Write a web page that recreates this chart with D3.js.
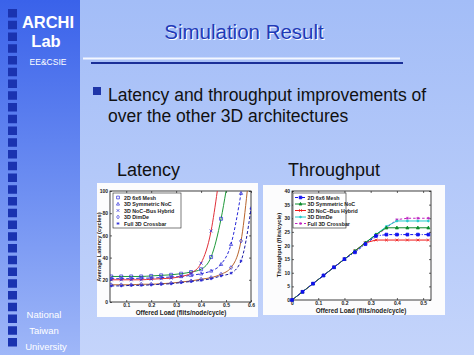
<!DOCTYPE html>
<html>
<head>
<meta charset="utf-8">
<script src="https://cdnjs.cloudflare.com/ajax/libs/d3/7.8.5/d3.min.js"></script>
<style>
  html, body { margin: 0; padding: 0; overflow: hidden; }
  svg { display: block; font-family: Arial, "Liberation Sans", sans-serif; }
</style>
</head>
<body>
<div id="slide"></div>
<script>
// Latency chart data (offered load vs average latency)
const latLoads = [0.04, 0.08, 0.12, 0.16, 0.20, 0.24, 0.28, 0.32, 0.36, 0.40, 0.44, 0.48, 0.52, 0.56, 0.60];
const latMesh   = [23, 23, 23, 23, 23.5, 24, 24.5, 25.5, 27, 29.5, 40.5, 75];
const latSymm   = [21, 21, 21, 21.5, 21.5, 22, 22.5, 23, 24, 25.5, 28, 34, 52, 98];
const latHybrid = [20, 20, 20, 20, 20.5, 21, 21.5, 23, 26, 35, 64];
const latDimde  = [15.5, 15.5, 15.5, 16, 16, 16.5, 17, 18, 19, 20.5, 22, 25, 31, 55];
const latXbar   = [14.5, 14.5, 15, 15, 15.5, 16, 16.5, 17.5, 18.5, 19.5, 21, 23.5, 26, 37, 84];
// where each curve leaves the top of the plot
const latEndLoad = [0.50, 0.57, 0.465, 0.585, 0.62];
const latEndValue = [100, 112, 100, 100, 120];

// Throughput chart data
const tpLoads = [0, 0.04, 0.08, 0.12, 0.16, 0.20, 0.24, 0.28, 0.32, 0.36, 0.40, 0.44, 0.48, 0.52];
const tpMesh   = [0, 3, 6, 9, 12, 15, 17.5, 20.5, 23.5, 24, 24, 24, 24, 24];
const tpSymm   = [0, 3, 6, 9, 12, 15, 18, 21, 24, 26.5, 26.5, 26.5, 26.5, 26.5];
const tpHybrid = [0, 3, 6, 9, 12, 15, 18, 21, 22, 22, 22, 22, 22, 22];
const tpDimde  = [0, 3, 6, 9, 12, 15, 18, 21, 24, 27, 29, 29, 29, 29];
const tpXbar   = [0, 3, 6, 9, 12, 15, 18, 21, 23.5, 26.5, 29.5, 30, 30, 30];

const seriesNames = ["2D 6x6 Mesh", "3D Symmetric NoC", "3D NoC\u2013Bus Hybrid", "3D DimDe", "Full 3D Crossbar"];
const latTicksX = [0.1, 0.2, 0.3, 0.4, 0.5, 0.6];
const latTicksY = [0, 20, 40, 60, 80, 100];
const tpTicksX = [0, 0.1, 0.2, 0.3, 0.4, 0.5];
const tpTicksY = [0, 5, 10, 15, 20, 25, 30, 35, 40];

const W = 474, H = 355;
const svg = d3.select("#slide").append("svg").attr("width", W).attr("height", H);
const defs = svg.append("defs");

const mainGrad = defs.append("linearGradient").attr("id", "mainBg").attr("x1", 0).attr("y1", 0).attr("x2", 0).attr("y2", 1);
mainGrad.append("stop").attr("offset", "0%").attr("stop-color", "#a3bdf7");
mainGrad.append("stop").attr("offset", "100%").attr("stop-color", "#c4d4fb");
const sideGrad = defs.append("linearGradient").attr("id", "sideBg").attr("x1", 0).attr("y1", 0).attr("x2", 0).attr("y2", 1);
sideGrad.append("stop").attr("offset", "0%").attr("stop-color", "#3a62ea");
sideGrad.append("stop").attr("offset", "55%").attr("stop-color", "#6f90f2");
sideGrad.append("stop").attr("offset", "100%").attr("stop-color", "#9fb7f8");

svg.append("rect").attr("width", W).attr("height", H).attr("fill", "url(#mainBg)");
svg.append("rect").attr("width", 80).attr("height", H).attr("fill", "url(#sideBg)");

// sidebar squares
svg.selectAll(".sq").data(d3.range(29)).join("rect")
  .attr("x", 8).attr("y", d => 9 + d * 11.75)
  .attr("width", 9).attr("height", 8.5)
  .attr("fill", "#1a33b0");

const side = svg.append("g").attr("fill", "white").attr("text-anchor", "middle");
side.append("text").attr("x", 48).attr("y", 28).attr("font-size", 16.5).attr("font-weight", "bold").text("ARCHI");
side.append("text").attr("x", 46).attr("y", 47).attr("font-size", 16.5).attr("font-weight", "bold").text("Lab");
side.append("text").attr("x", 48).attr("y", 65).attr("font-size", 8.5).text("EE&CSIE");
side.append("text").attr("x", 44).attr("y", 318).attr("font-size", 9.5).text("National");
side.append("text").attr("x", 44).attr("y", 334).attr("font-size", 9.5).text("Taiwan");
side.append("text").attr("x", 46).attr("y", 350).attr("font-size", 9.5).text("University");

// title
svg.append("text").attr("x", 244).attr("y", 39).attr("text-anchor", "middle")
  .attr("font-size", 20.5).attr("fill", "white").text("Simulation Result")
  .attr("transform", "translate(1,1)");
svg.append("text").attr("x", 244).attr("y", 39).attr("text-anchor", "middle")
  .attr("font-size", 20.5).attr("fill", "#1f3ab8").text("Simulation Result");
svg.append("rect").attr("x", 83).attr("y", 57.5).attr("width", 317).attr("height", 2).attr("fill", "#f4f7ff");
svg.append("rect").attr("x", 91).attr("y", 62).attr("width", 312).attr("height", 2).attr("fill", "#1a2f98");

// bullet
svg.append("rect").attr("x", 93).attr("y", 87).attr("width", 8).attr("height", 8).attr("fill", "#1f35a8");
svg.append("text").attr("x", 108).attr("y", 101).attr("font-size", 17.5).attr("fill", "#111")
  .text("Latency and throughput improvements of");
svg.append("text").attr("x", 108).attr("y", 122).attr("font-size", 17.5).attr("fill", "#111")
  .text("over the other 3D architectures");
svg.append("text").attr("x", 117).attr("y", 176).attr("font-size", 18).attr("fill", "#111").text("Latency");
svg.append("text").attr("x", 288).attr("y", 176).attr("font-size", 18).attr("fill", "#111").text("Throughput");

// marker shapes
function markerPath(type, s) {
  if (type === "square") return `M${-s},${-s}h${2 * s}v${2 * s}h${-2 * s}Z`;
  if (type === "triangle") return `M0,${-s * 1.2}L${s * 1.1},${s * 0.8}L${-s * 1.1},${s * 0.8}Z`;
  if (type === "x") return `M${-s},${-s}L${s},${s}M${-s},${s}L${s},${-s}`;
  if (type === "diamond") return `M0,${-s * 1.3}L${s},0L0,${s * 1.3}L${-s},0Z`;
  if (type === "star") return `M${-s},0H${s}M0,${-s}V${s}M${-s * 0.7},${-s * 0.7}L${s * 0.7},${s * 0.7}M${-s * 0.7},${s * 0.7}L${s * 0.7},${-s * 0.7}`;
  return "";
}

function drawFrame(g, x, y, ticksX, ticksY, fmtX) {
  const [x0, x1] = x.range(), [y0, y1] = y.range();
  g.append("rect").attr("x", x0).attr("y", y1).attr("width", x1 - x0).attr("height", y0 - y1)
    .attr("fill", "white").attr("stroke", "#111").attr("stroke-width", 0.8);
  const ax = g.append("g").attr("transform", `translate(0,${y0})`)
    .call(d3.axisBottom(x).tickValues(ticksX).tickSize(-2).tickPadding(1.5).tickFormat(fmtX));
  const axT = g.append("g").attr("transform", `translate(0,${y1})`)
    .call(d3.axisTop(x).tickValues(ticksX).tickSize(-2).tickFormat(""));
  const ay = g.append("g").attr("transform", `translate(${x0},0)`)
    .call(d3.axisLeft(y).tickValues(ticksY).tickSize(-2).tickPadding(2));
  const ayR = g.append("g").attr("transform", `translate(${x1},0)`)
    .call(d3.axisRight(y).tickValues(ticksY).tickSize(-2).tickFormat(""));
  [ax, axT, ay, ayR].forEach(a => {
    a.select(".domain").remove();
    a.selectAll("line").attr("stroke", "#222").attr("stroke-width", 0.7);
    a.selectAll("text").attr("font-size", 5).attr("font-weight", "bold").attr("fill", "#222")
      .attr("font-family", "Arial, 'Liberation Sans', sans-serif");
  });
}

// ---------- Latency chart ----------
svg.append("rect").attr("x", 97).attr("y", 183).attr("width", 161).attr("height", 134).attr("fill", "#fcfcfd");
const latX = d3.scaleLinear().domain([0.035, 0.6]).range([110, 251]);
const latY = d3.scaleLinear().domain([0, 100]).range([302, 191]);
const gL = svg.append("g");
drawFrame(gL, latX, latY, latTicksX, latTicksY, d3.format(".1f"));
defs.append("clipPath").attr("id", "clipL").append("rect")
  .attr("x", 110).attr("y", 191).attr("width", 141).attr("height", 111);

const latSeries = [
  { values: latMesh, color: "#1f9a3a", dash: null, marker: "square" },
  { values: latSymm, color: "#2a2ad8", dash: "3,2", marker: "triangle" },
  { values: latHybrid, color: "#e0303a", dash: null, marker: "x" },
  { values: latDimde, color: "#b8642c", dash: null, marker: "diamond" },
  { values: latXbar, color: "#1a1aa0", dash: "3,2", marker: "star" }
];
const latLine = d3.line().x(d => latX(d[0])).y(d => latY(d[1])).curve(d3.curveMonotoneX);
const plotL = gL.append("g").attr("clip-path", "url(#clipL)");
latSeries.forEach((s, i) => {
  const pts = s.values.map((v, j) => [latLoads[j], v]);
  plotL.append("path").attr("d", latLine(pts.concat([[latEndLoad[i], latEndValue[i]]])))
    .attr("fill", "none").attr("stroke", s.color).attr("stroke-width", 1).attr("stroke-dasharray", s.dash);
  plotL.selectAll(null).data(pts).join("path")
    .attr("transform", d => `translate(${latX(d[0])},${latY(d[1])})`)
    .attr("d", markerPath(s.marker, 1.5))
    .attr("fill", s.marker === "star" ? "#2a2ad8" : "none")
    .attr("stroke", "#2a2ad8").attr("stroke-width", 0.7);
});
// legend
const legL = gL.append("g");
legL.append("rect").attr("x", 113).attr("y", 193).attr("width", 68).attr("height", 35)
  .attr("fill", "white").attr("stroke", "#222").attr("stroke-width", 0.6);
seriesNames.forEach((n, i) => {
  const yy = 197.5 + i * 6.5;
  legL.append("path").attr("transform", `translate(118,${yy})`)
    .attr("d", markerPath(latSeries[i].marker, 1.4))
    .attr("fill", latSeries[i].marker === "star" ? "#2a2ad8" : "none")
    .attr("stroke", "#2a2ad8").attr("stroke-width", 0.7);
  legL.append("text").attr("x", 124).attr("y", yy + 2).attr("font-size", 5.3).attr("font-weight", "bold")
    .attr("fill", "#222").text(n);
});
gL.append("text").attr("x", 181).attr("y", 314.5).attr("text-anchor", "middle")
  .attr("font-size", 6.3).attr("font-weight", "bold").attr("fill", "#222").text("Offered Load (flits/node/cycle)");
gL.append("text").attr("transform", "translate(100.5,247) rotate(-90)").attr("text-anchor", "middle")
  .attr("font-size", 5.8).attr("font-weight", "bold").attr("fill", "#222").text("Average Latency (cycles)");

// ---------- Throughput chart ----------
svg.append("rect").attr("x", 263).attr("y", 185).attr("width", 182).attr("height", 130).attr("fill", "#fcfcfd");
const tpX = d3.scaleLinear().domain([0, 0.53]).range([292, 431]);
const tpY = d3.scaleLinear().domain([0, 40]).range([300, 191]);
const gT = svg.append("g");
drawFrame(gT, tpX, tpY, tpTicksX, tpTicksY, d => d === 0 ? "0" : d3.format(".1f")(d));

const tpSeries = [
  { values: tpMesh, color: "#1010f0", dash: "3,1.5,1,1.5", marker: "square", fill: true },
  { values: tpSymm, color: "#0a8a2a", dash: null, marker: "triangle", fill: true },
  { values: tpHybrid, color: "#f01818", dash: null, marker: "x", fill: false },
  { values: tpDimde, color: "#20c8c8", dash: null, marker: "star", fill: false },
  { values: tpXbar, color: "#c020c0", dash: "2.5,2", marker: "star", fill: false }
];
const tpLine = d3.line().x(d => tpX(d[0])).y(d => tpY(d[1]));
const plotT = gT.append("g");
// draw in reverse so mesh sits on top
tpSeries.slice().reverse().forEach(s => {
  const pts = s.values.map((v, j) => [tpLoads[j], v]);
  plotT.append("path").attr("d", tpLine(pts))
    .attr("fill", "none").attr("stroke", s.color).attr("stroke-width", 1).attr("stroke-dasharray", s.dash);
  plotT.selectAll(null).data(pts).join("path")
    .attr("transform", d => `translate(${tpX(d[0])},${tpY(d[1])})`)
    .attr("d", markerPath(s.marker, 1.4))
    .attr("fill", s.fill ? s.color : "none")
    .attr("stroke", s.color).attr("stroke-width", 0.8);
});
const legT = gT.append("g");
legT.append("rect").attr("x", 293).attr("y", 193).attr("width", 53).attr("height", 35)
  .attr("fill", "white").attr("stroke", "#222").attr("stroke-width", 0.6);
seriesNames.forEach((n, i) => {
  const yy = 197.5 + i * 6.5, s = tpSeries[i];
  legT.append("line").attr("x1", 295).attr("x2", 306).attr("y1", yy).attr("y2", yy)
    .attr("stroke", s.color).attr("stroke-width", 1).attr("stroke-dasharray", s.dash);
  legT.append("path").attr("transform", `translate(300.5,${yy})`)
    .attr("d", markerPath(s.marker, 1.3))
    .attr("fill", s.fill ? s.color : "none").attr("stroke", s.color).attr("stroke-width", 0.8);
  legT.append("text").attr("x", 307.5).attr("y", yy + 2).attr("font-size", 5.3).attr("font-weight", "bold")
    .attr("fill", "#222").text(n);
});
gT.append("text").attr("x", 361).attr("y", 313).attr("text-anchor", "middle")
  .attr("font-size", 6.3).attr("font-weight", "bold").attr("fill", "#222").text("Offered Load (flits/node/cycle)");
gT.append("text").attr("transform", "translate(280.5,245) rotate(-90)").attr("text-anchor", "middle")
  .attr("font-size", 5.8).attr("font-weight", "bold").attr("fill", "#222").text("Throughput (flits/cycle)");
</script>
</body>
</html>
